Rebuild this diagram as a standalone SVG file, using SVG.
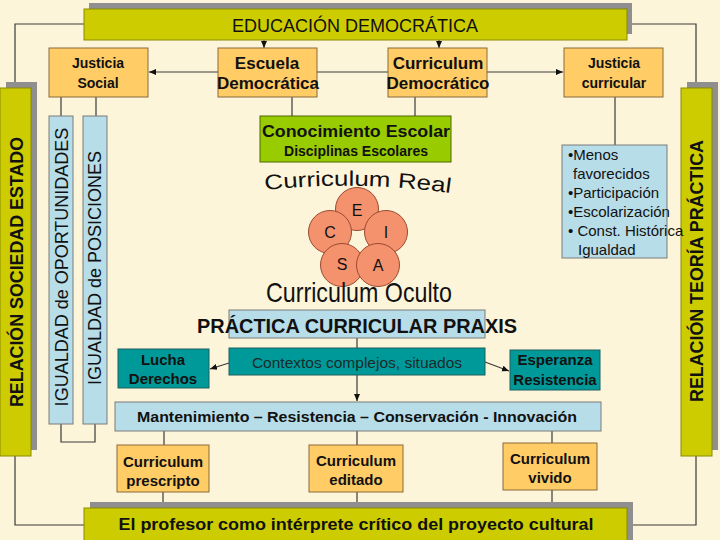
<svg xmlns="http://www.w3.org/2000/svg" width="720" height="540" viewBox="0 0 720 540">
<style>
text{font-family:"Liberation Sans",Arial,sans-serif;fill:#111}
.b{font-weight:bold}
.ybar{fill:#CCCC00;stroke:#8a8a00;stroke-width:1}
.shadow{fill:#8f8f8f}
.org{fill:#FFCC66;stroke:#8a6a3a;stroke-width:1}
.blue{fill:#B7DDE8;stroke:#7a7a7a;stroke-width:1}
.teal{fill:#009999;stroke:#1f5f5f;stroke-width:1}
.green{fill:#99CC00;stroke:#4d6600;stroke-width:1}
.circ{fill:#F4926E;stroke:#9a4a30;stroke-width:1}
.ln{fill:none;stroke:#3a3a3a;stroke-width:1.2}
.ar{fill:none;stroke:#3a3a3a;stroke-width:1.2;marker-end:url(#ah)}
</style>
<defs>
<marker id="ah" markerWidth="8" markerHeight="8" refX="7" refY="4" orient="auto" markerUnits="userSpaceOnUse">
<path d="M0,1 L7,4 L0,7 Z" fill="#111"/>
</marker>
<path id="arcReal" d="M265,190 Q357,180 451,193"/>
</defs>
<rect width="720" height="540" fill="#FDF5D9"/>

<g id="connectors">
<polyline class="ln" points="84,24 15,24 15,88"/>
<polyline class="ln" points="627,24 696,24 696,88"/>
<polyline class="ln" points="15,456 15,525 84,525"/>
<polyline class="ln" points="696,456 696,525 627,525"/>
<line class="ar" x1="264" y1="40" x2="264" y2="48"/>
<line class="ar" x1="439" y1="40" x2="439" y2="48"/>
<line class="ar" x1="218" y1="72" x2="149" y2="72"/>
<line class="ln" x1="317" y1="72" x2="388" y2="72"/>
<line class="ar" x1="487" y1="72" x2="563" y2="72"/>
<line class="ln" x1="292" y1="97" x2="292" y2="116"/>
<line class="ln" x1="415" y1="97" x2="415" y2="116"/>
<line class="ln" x1="61" y1="97" x2="61" y2="116"/>
<line class="ln" x1="96" y1="97" x2="96" y2="116"/>
<polyline class="ln" points="61,424 61,442 95,442 95,424"/>
<line class="ln" x1="615" y1="97" x2="615" y2="145"/>
<line class="ar" x1="357" y1="338" x2="357" y2="401"/>
<line class="ar" x1="229" y1="363" x2="210" y2="369"/>
<line class="ar" x1="485" y1="362" x2="509" y2="371"/>
<line class="ln" x1="164" y1="431" x2="164" y2="445"/>
<line class="ln" x1="357" y1="431" x2="357" y2="445"/>
<line class="ln" x1="552" y1="431" x2="552" y2="443"/>
<line class="ln" x1="163" y1="492" x2="163" y2="508"/>
<line class="ln" x1="357" y1="492" x2="357" y2="508"/>
<line class="ln" x1="552" y1="490" x2="552" y2="508"/>
</g>

<g id="top-bar">
<rect class="shadow" x="89" y="3" width="543" height="31"/>
<rect class="ybar" x="84" y="9" width="543" height="31"/>
<text x="355" y="32" font-size="18" text-anchor="middle">EDUCACIÓN DEMOCRÁTICA</text>
</g>

<g id="bottom-bar">
<rect class="shadow" x="90" y="502" width="543" height="38"/>
<rect class="ybar" x="84" y="508" width="543" height="34"/>
<text class="b" x="356" y="530" font-size="16" text-anchor="middle" textLength="475" lengthAdjust="spacingAndGlyphs">El profesor como intérprete crítico del proyecto cultural</text>
</g>

<g id="left-bar">
<rect class="shadow" x="6" y="82" width="31" height="368"/>
<rect class="ybar" x="0" y="88" width="31" height="368"/>
<text class="b" transform="translate(23,272) rotate(-90)" font-size="18" text-anchor="middle" textLength="270" lengthAdjust="spacingAndGlyphs">RELACIÓN SOCIEDAD ESTADO</text>
</g>

<g id="right-bar">
<rect class="shadow" x="687" y="82" width="31" height="368"/>
<rect class="ybar" x="681" y="88" width="31" height="368"/>
<text class="b" transform="translate(703,271) rotate(-90)" font-size="18" text-anchor="middle" textLength="262" lengthAdjust="spacingAndGlyphs">RELACIÓN TEORÍA PRÁCTICA</text>
</g>

<g id="justicia-social">
<rect class="org" x="49" y="48" width="99" height="49"/>
<text class="b" x="98" y="68" font-size="14" text-anchor="middle">Justicia</text>
<text class="b" x="98" y="88" font-size="14" text-anchor="middle">Social</text>
</g>

<g id="escuela-democratica">
<rect class="org" x="218" y="48" width="99" height="49"/>
<text class="b" x="267" y="69" font-size="17" text-anchor="middle">Escuela</text>
<text class="b" x="268" y="89" font-size="17" text-anchor="middle">Democrática</text>
</g>

<g id="curriculum-democratico">
<rect class="org" x="388" y="48" width="99" height="49"/>
<text class="b" x="438" y="69" font-size="17" text-anchor="middle">Curriculum</text>
<text class="b" x="438" y="89" font-size="17" text-anchor="middle">Democrático</text>
</g>

<g id="justicia-curricular">
<rect class="org" x="564" y="48" width="99" height="49"/>
<text class="b" x="614" y="68" font-size="14" text-anchor="middle">Justicia</text>
<text class="b" x="614" y="88" font-size="14" text-anchor="middle">curricular</text>
</g>

<g id="conocimiento-escolar">
<rect class="green" x="260" y="116" width="191" height="46"/>
<text class="b" x="356" y="137" font-size="17" text-anchor="middle" textLength="188" lengthAdjust="spacingAndGlyphs">Conocimiento Escolar</text>
<text class="b" x="356" y="156" font-size="14" text-anchor="middle">Disciplinas Escolares</text>
</g>

<g id="igualdad-oportunidades">
<rect class="blue" x="49" y="116" width="24" height="308"/>
<text transform="translate(68,267) rotate(-90)" font-size="18" text-anchor="middle">IGUALDAD de OPORTUNIDADES</text>
</g>

<g id="igualdad-posiciones">
<rect class="blue" x="83" y="116" width="24" height="308"/>
<text transform="translate(101,268) rotate(-90)" font-size="18" text-anchor="middle">IGUALDAD de POSICIONES</text>
</g>

<g id="lista-justicia">
<rect class="blue" x="562" y="145" width="105" height="113"/>
<text font-size="15"><tspan x="568" y="160">•Menos</tspan><tspan x="573" y="179">favorecidos</tspan><tspan x="568" y="198">•Participación</tspan><tspan x="568" y="217">•Escolarización</tspan><tspan x="568" y="236">• Const. Histórica</tspan><tspan x="578" y="255">Igualdad</tspan></text>
</g>

<g id="curriculum-real">
<text font-size="21"><textPath href="#arcReal" textLength="186" lengthAdjust="spacingAndGlyphs">Curriculum Real</textPath></text>
</g>

<g id="circulos">
<circle class="circ" cx="357" cy="209" r="21.5"/>
<circle class="circ" cx="330" cy="232" r="21.5"/>
<circle class="circ" cx="386" cy="232" r="21.5"/>
<circle class="circ" cx="342" cy="265" r="21.5"/>
<circle class="circ" cx="378" cy="265" r="21.5"/>
<text x="357" y="216" font-size="16" text-anchor="middle">E</text>
<text x="330" y="238" font-size="16" text-anchor="middle">C</text>
<text x="386" y="238" font-size="16" text-anchor="middle">I</text>
<text x="342" y="270" font-size="16" text-anchor="middle">S</text>
<text x="378" y="271" font-size="16" text-anchor="middle">A</text>
</g>

<g id="curriculum-oculto">
<text x="266" y="302" font-size="28" textLength="186" lengthAdjust="spacingAndGlyphs">Curriculum Oculto</text>
</g>

<g id="practica-curricular">
<rect class="blue" x="229" y="310" width="256" height="28"/>
<text class="b" x="357" y="333" font-size="20" text-anchor="middle" textLength="320" lengthAdjust="spacingAndGlyphs">PRÁCTICA CURRICULAR PRAXIS</text>
</g>

<g id="contextos">
<rect class="teal" x="229" y="348" width="256" height="27"/>
<text x="357" y="368" font-size="15.5" text-anchor="middle" style="fill:#1a2b2b">Contextos complejos, situados</text>
</g>

<g id="lucha-derechos">
<rect class="teal" x="118" y="349" width="91" height="39"/>
<text class="b" x="163" y="365" font-size="15" text-anchor="middle">Lucha</text>
<text class="b" x="163" y="384" font-size="15" text-anchor="middle">Derechos</text>
</g>

<g id="esperanza-resistencia">
<rect class="teal" x="510" y="350" width="90" height="40"/>
<text class="b" x="555" y="365" font-size="15" text-anchor="middle">Esperanza</text>
<text class="b" x="555" y="385" font-size="15" text-anchor="middle">Resistencia</text>
</g>

<g id="mantenimiento">
<rect class="blue" x="115" y="402" width="486" height="29"/>
<text class="b" x="357" y="422" font-size="15" text-anchor="middle" textLength="440" lengthAdjust="spacingAndGlyphs">Mantenimiento – Resistencia – Conservación - Innovación</text>
</g>

<g id="curriculum-prescripto">
<rect class="org" x="117" y="445" width="92" height="47"/>
<text class="b" x="163" y="467" font-size="15" text-anchor="middle">Curriculum</text>
<text class="b" x="163" y="486" font-size="15" text-anchor="middle">prescripto</text>
</g>

<g id="curriculum-editado">
<rect class="org" x="309" y="445" width="94" height="47"/>
<text class="b" x="356" y="466" font-size="15" text-anchor="middle">Curriculum</text>
<text class="b" x="356" y="485" font-size="15" text-anchor="middle">editado</text>
</g>

<g id="curriculum-vivido">
<rect class="org" x="503" y="443" width="94" height="47"/>
<text class="b" x="550" y="464" font-size="15" text-anchor="middle">Curriculum</text>
<text class="b" x="550" y="483" font-size="15" text-anchor="middle">vivido</text>
</g>
</svg>
